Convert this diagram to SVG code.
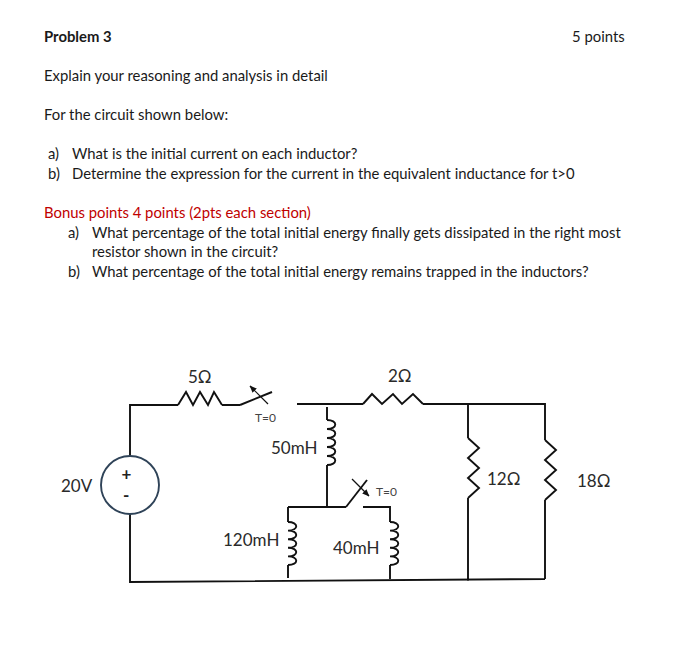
<svg xmlns="http://www.w3.org/2000/svg" width="690" height="649" viewBox="0 0 690 649">
<style>
text{font-family:Lato,"Noto Sans",sans-serif;font-size:14.85px;fill:#1a1a1a}
.b{font-weight:700}
.r{fill:#c00000}
text.c{font-size:17px;fill:#2a2a2a}
text.s{font-size:12px;fill:#444}
text.p{font-size:17px;font-weight:700;fill:#222}
.w{fill:none;stroke:#111;stroke-width:1.9;stroke-linejoin:miter}
.t{stroke-width:1.2}
</style>
<defs><marker id="a" markerWidth="6" markerHeight="5" refX="5.500" refY="2.500" orient="auto"><path d="M0 0L6 2.500L0 5z" fill="#111"/></marker></defs>
<rect width="690" height="649" fill="#fff"/>
<g id="text">
<text class="b" x="44" y="42">Problem 3</text>
<text x="572" y="42">5 points</text>
<text x="44" y="81">Explain your reasoning and analysis in detail</text>
<text x="44" y="120">For the circuit shown below:</text>
<text x="48" y="159">a)</text><text x="72" y="159">What is the initial current on each inductor?</text>
<text x="48" y="179">b)</text><text x="72" y="179">Determine the expression for the current in the equivalent inductance for t&gt;0</text>
<text class="r" x="44" y="218">Bonus points 4 points (2pts each section)</text>
<text x="68" y="238">a)</text><text x="92" y="238">What percentage of the total initial energy finally gets dissipated in the right most</text>
<text x="92" y="257">resistor shown in the circuit?</text>
<text x="68" y="277">b)</text><text x="92" y="277">What percentage of the total initial energy remains trapped in the inductors?</text>
</g>
<g id="connectors">
<path class="w" d="M130 456V405H178M222 405H240M297 404H363M423 404H545V440M468 404V438M468 498V581M545 500V579M130 514V582L545 579M327 407V420M327 465V507M288 507H346M363 507H390V522M390 565V579M288 507V522M288 565V578"/>
</g>
<g id="source"><circle cx="130" cy="485" r="29" fill="none" stroke="#2f4358" stroke-width="1.900"/>
<text class="p" x="121.500" y="480">+</text><text class="p" x="123" y="501">-</text>
<text class="c" x="61" y="492">20V</text></g>
<g id="r5"><path class="w" d="M178 405L186 392L193 405L200 392L208 405L214 392L222 405"/><text class="c" x="188" y="383">5Ω</text></g>
<g id="sw1"><path class="w" d="M240 405L272 392"/><path class="w t" d="M268 404L250 386" marker-end="url(#a)"/><text class="s" x="255" y="422">T=0</text></g>
<g id="r2"><path class="w" d="M363 404L372 394L382 404L393 394L402 404L413 394L423 404"/><text class="c" x="388" y="382">2Ω</text></g>
<g id="l50"><path class="w" d="M327 420C338 420 338 429 327 429C338 429 338 438 327 438C338 438 338 447 327 447C338 447 338 456 327 456C338 456 338 465 327 465"/><text class="c" x="271" y="454">50mH</text></g>
<g id="l120"><path class="w" d="M288 522C299 522 299 530.600 288 530.600C299 530.600 299 539.200 288 539.200C299 539.200 299 547.800 288 547.800C299 547.800 299 556.400 288 556.400C299 556.400 299 565 288 565"/><text class="c" x="223" y="546">120mH</text></g>
<g id="l40"><path class="w" d="M390 522C401 522 401 530.600 390 530.600C401 530.600 401 539.200 390 539.200C401 539.200 401 547.800 390 547.800C401 547.800 401 556.400 390 556.400C401 556.400 401 565 390 565"/><text class="c" x="333" y="554">40mH</text></g>
<g id="sw2"><path class="w" d="M346 507L367 480"/><path class="w t" d="M352 479L369 496" marker-end="url(#a)"/><text class="s" x="376" y="496">T=0</text></g>
<g id="r12"><path class="w" d="M468 438L479 448L468 458L479 468L468 478L479 488L468 498"/><text class="c" x="487" y="484.500">12Ω</text></g>
<g id="r18"><path class="w" d="M545 440L556 450L545 460L556 470L545 480L556 490L545 500"/><text class="c" x="577" y="487">18Ω</text></g>
</svg>
